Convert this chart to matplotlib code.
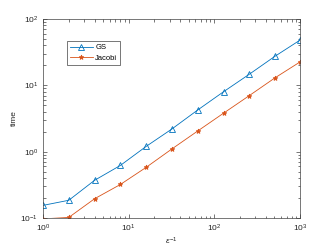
import numpy as np
import matplotlib
matplotlib.use("Agg")
import matplotlib.pyplot as plt

plt.rcParams['font.family'] = ['Liberation Sans', 'DejaVu Sans']
plt.rcParams['mathtext.fontset'] = 'custom'
plt.rcParams['mathtext.rm'] = 'Liberation Sans'
plt.rcParams['mathtext.it'] = 'Liberation Sans:italic'

# data
eps_inv = [1, 2, 4, 8, 16, 32, 64, 128, 256, 512, 1000]
gs_time = [0.155, 0.185, 0.37, 0.62, 1.2, 2.2, 4.25, 8.0, 14.7, 27.5, 48]
jacobi_time = [0.097, 0.102, 0.195, 0.32, 0.58, 1.1, 2.05, 3.8, 7.0, 13.0, 22.5]

blue = '#0072BD'
orange = '#D95319'
axcol = '#404040'

fig = plt.figure(figsize=(3.32, 2.49), dpi=100)
ax = fig.add_axes([0.1295, 0.1245, 0.7741, 0.7992])

ax.loglog(eps_inv, gs_time, '-^', color=blue, lw=0.6, ms=4,
          mfc='none', mew=0.6, label='GS')
ax.loglog(eps_inv, jacobi_time, '-*', color=orange, lw=0.6, ms=3.5,
          mew=0.6, label='Jacobi')

ax.set_xlim(1, 1000)
ax.set_ylim(0.1, 100)
ax.set_xlabel(r'$\epsilon^{-1}$', fontsize=6, color='#262626', labelpad=1)
ax.set_ylabel('time', fontsize=6, color='#262626', labelpad=2)

ax.tick_params(which='both', direction='in', top=True, right=True,
               labelsize=6, colors=axcol, labelcolor='#262626', width=0.5)
ax.tick_params(which='major', length=3)
ax.tick_params(which='minor', length=1.8)
for s in ax.spines.values():
    s.set_linewidth(0.5)
    s.set_color(axcol)

leg = ax.legend(loc='upper left', bbox_to_anchor=(0.093, 0.889), fontsize=5.5,
                fancybox=False, edgecolor=axcol, framealpha=1,
                handlelength=3, borderpad=0.4, labelspacing=0.35,
                handletextpad=0.3, borderaxespad=0)
leg.get_frame().set_linewidth(0.5)

fig.savefig('out.png', dpi=100)
